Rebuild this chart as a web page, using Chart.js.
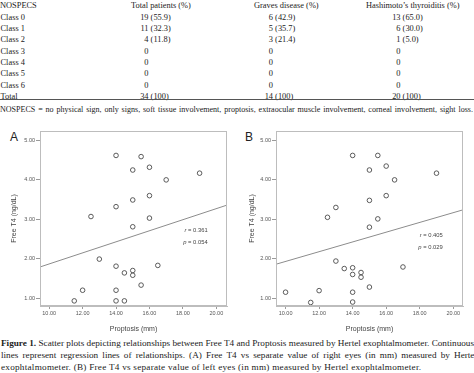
<!DOCTYPE html>
<html><head><meta charset="utf-8">
<script src="https://cdn.jsdelivr.net/npm/chart.js@4"></script>
<style>
html,body{margin:0;padding:0;background:#fff;}
body{width:474px;height:373px;position:relative;overflow:hidden;font-family:"Liberation Serif","Times New Roman",serif;color:#222;}
.t{position:absolute;white-space:pre;font-size:8.4px;line-height:11.33px;}
.rule{position:absolute;left:0;width:474px;height:1px;background:#555;}
canvas{position:absolute;}
.lab{position:absolute;font-family:"Liberation Sans",Arial,sans-serif;font-size:12px;color:#222;}
.cap{position:absolute;left:1px;white-space:nowrap;font-size:9.2px;line-height:11.7px;}
</style></head>
<body>
<div id="table"></div>
<div class="rule" style="top:99px"></div>
<div class="t" style="left:0;top:103.5px;width:473px;font-size:8.05px;white-space:nowrap;text-align:justify;text-align-last:justify;">NOSPECS = no physical sign, only signs, soft tissue involvement, proptosis, extraocular muscle involvement, corneal involvement, sight loss.</div>
<div class="lab" style="left:10px;top:130px;">A</div>
<div class="lab" style="left:245px;top:130px;">B</div>
<canvas id="cA" width="237" height="226" style="left:0;top:112px;"></canvas>
<canvas id="cB" width="237" height="226" style="left:237px;top:112px;"></canvas>
<div class="cap" style="top:338px;width:473px;text-align:justify;text-align-last:justify;"><b>Figure 1.</b> Scatter plots depicting relationships between Free T4 and Proptosis measured by Hertel exophtalmometer. Continuous</div>
<div class="cap" style="top:350px;width:476px;text-align:justify;text-align-last:justify;">lines represent regression lines of relationships. (A) Free T4 vs separate value of right eyes (in mm) measured by Hertel</div>
<div class="cap" style="top:361.7px;letter-spacing:0.25px;">exophtalmometer. (B) Free T4 vs separate value of left eyes (in mm) measured by Hertel exophtalmometer.</div>
<script>
// ---- table data ----
const tableHeaders = ["NOSPECS", "Total patients (%)", "Graves disease (%)", "Hashimoto\u2019s thyroiditis (%)"];
const classes = ["Class 0","Class 1","Class 2","Class 3","Class 4","Class 5","Class 6","Total"];
const totalPatients = ["19 (55.9)","11 (32.3)","4 (11.8)","0","0","0","0","34 (100)"];
const gravesDisease = ["6 (42.9)","5 (35.7)","3 (21.4)","0","0","0","0","14 (100)"];
const hashimoto = ["13 (65.0)","6 (30.0)","1 (5.0)","0","0","0","0","20 (100)"];

// ---- scatter data ----
const xTickValues = [10, 12, 14, 16, 18, 20];
const yTickValues = [1, 2, 3, 4, 5];
const rightEyeProptosis = [14, 15.5, 15, 16, 17, 19, 16, 15, 14, 12.5, 16, 15, 13, 14, 14.5, 15, 15, 16.5, 15.5, 12, 14, 11.5, 14, 14.5];
const rightEyeFreeT4   = [4.62, 4.59, 4.25, 4.32, 4.0, 4.17, 3.6, 3.49, 3.32, 3.07, 3.03, 2.81, 1.99, 1.81, 1.64, 1.70, 1.58, 1.83, 1.33, 1.2, 1.2, 0.93, 0.93, 0.93];
const leftEyeProptosis = [14, 15.5, 15, 16, 16.5, 19, 16, 15, 13, 12.5, 15.5, 15, 13, 13.5, 14, 14, 14.5, 14.5, 15, 17, 10, 12, 11.5, 14, 14];
const leftEyeFreeT4    = [4.62, 4.62, 4.25, 4.35, 4.0, 4.17, 3.6, 3.48, 3.3, 3.05, 3.01, 2.8, 1.94, 1.75, 1.77, 1.6, 1.65, 1.53, 1.28, 1.79, 1.15, 1.19, 0.89, 1.15, 0.9];
const regressionA = [{x: 9.45, y: 1.79}, {x: 20.64, y: 3.36}];
const regressionB = [{x: 9.43, y: 1.86}, {x: 20.58, y: 3.24}];
const statsA = ["r = 0.361", "p = 0.054"];
const statsB = ["r = 0.405", "p = 0.029"];

// ---- build table ----
(function(){
  const t = document.getElementById('table');
  function add(txt, left, top, extra){
    const d = document.createElement('div'); d.className='t'; d.textContent = txt;
    d.style.left = left+'px'; d.style.top = top+'px';
    if (extra) Object.assign(d.style, extra);
    t.appendChild(d);
  }
  const rowH = 11.33, top0 = 0.3;
  add(tableHeaders[0], 0, top0);
  add(tableHeaders[1], 131, top0);
  add(tableHeaders[2], 254, top0);
  add(tableHeaders[3], 366, top0);
  const cols = [[totalPatients, 148.5], [gravesDisease, 273], [hashimoto, 400.5]];
  classes.forEach((c, i) => {
    const top = top0 + rowH*(i+1);
    add(c, 0.5, top);
    cols.forEach(([arr, numRight]) => {
      const s = arr[i]; const k = s.indexOf(' ');
      const num = k < 0 ? s : s.slice(0, k); const rest = k < 0 ? '' : s.slice(k);
      add(num, numRight - 30, top, {width:'30px', textAlign:'right'});
      if (rest) add(rest, numRight, top);
    });
  });
})();

const sans = '"Liberation Sans", Arial, sans-serif';
const boxPlugin = {
  id: 'box',
  afterDraw(chart){
    const {ctx, chartArea: a} = chart;
    ctx.save(); ctx.strokeStyle = '#bdbdbd'; ctx.lineWidth = 1;
    ctx.strokeRect(Math.round(a.left)+0.5, Math.round(a.top)+0.5, Math.round(a.right-a.left)-1, Math.round(a.bottom-a.top)-1);
    ctx.restore();
  }
};
function statsPlugin(lines, xr, ys){
  return {
    id: 'stats',
    afterDatasetsDraw(chart){
      const {ctx, scales:{x, y}} = chart;
      ctx.save(); ctx.fillStyle = '#444'; ctx.textAlign = 'right'; ctx.textBaseline = 'middle';
      lines.forEach((txt, i) => {
        const px = x.getPixelForValue(xr), py = y.getPixelForValue(ys[i]);
        const first = txt.slice(0,1), rest = txt.slice(1);
        ctx.font = '5.8px ' + sans;
        const w = ctx.measureText(rest).width;
        ctx.fillText(rest, px, py);
        ctx.font = 'italic 5.8px ' + sans;
        ctx.fillText(first, px - w, py);
      });
      ctx.restore();
    }
  };
}
function makeChart(id, xs, ys, reg, xMin, xMax, yAxisWidth, padRight, yTitlePad, stats, statX, statY){
  return new Chart(document.getElementById(id), {
    type: 'scatter',
    data: { datasets: [
      { type: 'scatter', data: xs.map((x, i) => ({x, y: ys[i]})), pointStyle: 'circle', pointRadius: 2.3,
        borderColor: '#4a4a4a', backgroundColor: 'rgba(255,255,255,0)', borderWidth: 0.9 },
      { type: 'line', data: reg, borderColor: '#8c8c8c', borderWidth: 1, pointRadius: 0, fill: false, tension: 0 }
    ]},
    options: {
      responsive: false, animation: false, devicePixelRatio: 1,
      layout: { padding: { top: 19, right: padRight, left: 0, bottom: 0 } },
      plugins: { legend: { display: false }, tooltip: { enabled: false } },
      scales: {
        x: { type: 'linear', min: xMin, max: xMax,
          afterBuildTicks: s => { s.ticks = xTickValues.map(v => ({value: v})); },
          afterFit: s => { s.height = 32; },
          ticks: { callback: v => Number(v).toFixed(2), font: { size: 5.5, family: sans }, color: '#555', padding: 1, maxRotation: 0, autoSkip: false },
          grid: { drawOnChartArea: false, tickLength: 3, color: '#9a9a9a' },
          border: { color: '#bdbdbd' },
          title: { display: true, text: 'Proptosis (mm)', font: { size: 7, family: sans }, color: '#444', padding: { top: 0, bottom: 4.5 } } },
        y: { type: 'linear', min: 0.8, max: 5.24,
          afterBuildTicks: s => { s.ticks = yTickValues.map(v => ({value: v})); },
          afterFit: s => { s.width = yAxisWidth; },
          ticks: { callback: v => Number(v).toFixed(2), font: { size: 5.5, family: sans }, color: '#555', padding: 1, autoSkip: false },
          grid: { drawOnChartArea: false, tickLength: 4, color: '#9a9a9a' },
          border: { color: '#bdbdbd' },
          title: { display: true, text: 'Free T4 (ng/dL)', font: { size: 7, family: sans }, color: '#444', padding: { top: yTitlePad, bottom: 0 } } }
      }
    },
    plugins: [boxPlugin, statsPlugin(stats, statX, statY)]
  });
}
makeChart('cA', rightEyeProptosis, rightEyeFreeT4, regressionA, 9.45, 20.64, 40, 10, 9.8, statsA, 19.48, [2.73, 2.42]);
makeChart('cB', leftEyeProptosis, leftEyeFreeT4, regressionB, 9.43, 20.58, 39, 11, 10.5, statsB, 19.37, [2.6, 2.28]);
</script>
</body></html>
